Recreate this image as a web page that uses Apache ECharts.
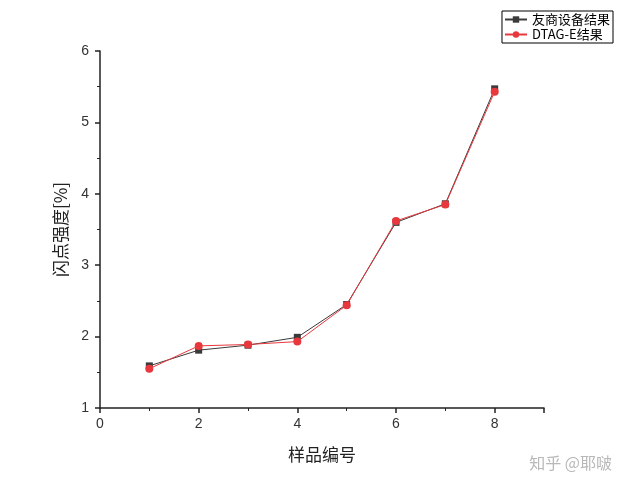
<!DOCTYPE html>
<html><head><meta charset="utf-8">
<script src="https://cdn.jsdelivr.net/npm/echarts@6/dist/echarts.min.js"></script>
<style>html,body{margin:0;padding:0;background:#fff}#c{width:630px;height:491px}</style>
</head><body><div id="c"></div>
<script>
const samples = [1, 2, 3, 4, 5, 6, 7, 8];
const vendorResult = [1.59, 1.81, 1.88, 1.99, 2.45, 3.60, 3.86, 5.47];
const dtagResult = [1.55, 1.87, 1.89, 1.93, 2.44, 3.62, 3.85, 5.43];
const seriesNames = ['友商设备结果', 'DTAG-E结果'];

const chart = echarts.init(document.getElementById('c'), null, {renderer: 'canvas'});
const axisFont = {fontFamily: 'Liberation Sans, Arial, sans-serif', fontSize: 14, color: '#333'};
chart.setOption({
  animation: false,
  backgroundColor: '#fff',
  grid: {left: 100, top: 51, right: 86, bottom: 83, containLabel: false},
  legend: {
    orient: 'vertical', right: 17, top: 11,
    borderColor: '#000', borderWidth: 1, padding: [2, 3, 2, 2],
    itemGap: 2, itemWidth: 22, itemHeight: 8,
    textStyle: {fontFamily: 'Noto Sans CJK SC, Liberation Sans, sans-serif', fontSize: 13, color: '#000'},
    data: seriesNames
  },
  xAxis: {
    type: 'value', min: 0, max: 9, interval: 2,
    name: '样品编号', nameLocation: 'middle', nameGap: 38,
    nameTextStyle: {fontFamily: 'Noto Sans CJK SC, sans-serif', fontSize: 17, color: '#222'},
    axisLine: {show: true, lineStyle: {color: '#222', width: 1.5}},
    axisTick: {show: true, inside: false, length: 5, lineStyle: {color: '#222', width: 1.5}},
    minorTick: {show: true, splitNumber: 2, length: 3, lineStyle: {color: '#222', width: 1}},
    axisLabel: Object.assign({margin: 9, formatter: v => (v % 2 === 0 && v <= 8) ? String(v) : ''}, axisFont),
    splitLine: {show: false}
  },
  yAxis: {
    type: 'value', min: 1, max: 6, interval: 1,
    name: '闪点强度[%]', nameLocation: 'middle', nameGap: 31, nameRotate: 90,
    nameTextStyle: {fontFamily: 'Noto Sans CJK SC, sans-serif', fontSize: 17, color: '#222'},
    axisLine: {show: true, onZero: false, lineStyle: {color: '#222', width: 1.5}},
    axisTick: {show: true, inside: false, length: 5, lineStyle: {color: '#222', width: 1.5}},
    minorTick: {show: true, splitNumber: 2, length: 3, lineStyle: {color: '#222', width: 1}},
    axisLabel: Object.assign({margin: 11}, axisFont),
    splitLine: {show: false}
  },
  series: [
    {
      name: seriesNames[0], type: 'line',
      data: samples.map((s, i) => [s, vendorResult[i]]),
      symbol: 'rect', symbolSize: 7,
      itemStyle: {color: '#3a3a3a'},
      lineStyle: {color: '#3a3a3a', width: 1},
      z: 2
    },
    {
      name: seriesNames[1], type: 'line',
      data: samples.map((s, i) => [s, dtagResult[i]]),
      symbol: 'circle', symbolSize: 8,
      itemStyle: {color: '#e8383d'},
      lineStyle: {color: '#e8383d', width: 1},
      z: 3
    }
  ],
  graphic: [{
    type: 'text', right: 18, top: 455,
    style: {text: '知乎 @耶啵', fill: '#b8b8b8', font: '16px "Noto Sans CJK SC", sans-serif'}
  }]
});
</script></body></html>
